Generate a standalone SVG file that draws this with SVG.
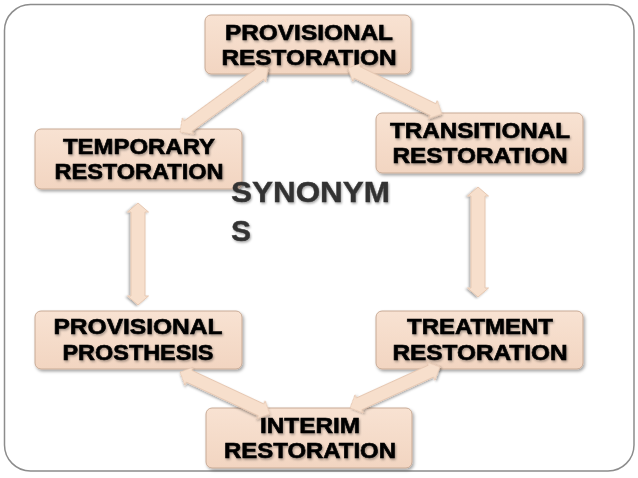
<svg xmlns="http://www.w3.org/2000/svg" width="638" height="478" viewBox="0 0 638 478">
<defs>
<linearGradient id="boxfill" x1="0" y1="0" x2="0" y2="1">
<stop offset="0" stop-color="#f8e2d2"/>
<stop offset="1" stop-color="#f2d5c1"/>
</linearGradient>
<filter id="shadow" x="-10%" y="-10%" width="125%" height="135%">
<feDropShadow dx="1.5" dy="2" stdDeviation="1.5" flood-color="#000" flood-opacity="0.35"/>
</filter>
<filter id="tshadow" x="-5%" y="-20%" width="110%" height="150%">
<feDropShadow dx="1" dy="1.5" stdDeviation="0.8" flood-color="#000" flood-opacity="0.35"/>
</filter>
</defs>
<style>
.box{fill:url(#boxfill);stroke:#c8aa95;stroke-width:1;filter:url(#shadow)}
.lbl{font-family:"Liberation Sans",Arial,sans-serif;font-weight:bold;font-size:22px;fill:#000;stroke:#000;stroke-width:0.6;text-anchor:middle;filter:url(#tshadow)}
.syn{font-family:"Liberation Sans",Arial,sans-serif;font-weight:bold;font-size:30px;fill:#333;stroke:#333;stroke-width:0.4;filter:url(#tshadow)}
.arrow{fill:#f7dfcc;stroke:#e6c8b2;stroke-width:1;filter:url(#tshadow)}
</style>
<rect x="4.5" y="4.5" width="629.5" height="466.5" rx="26" fill="#fff" stroke="#8c8c8c" stroke-width="1.5"/>

<g id="n-provisional-restoration">
<rect class="box" x="205" y="15" width="206" height="59" rx="6"/>
<text class="lbl" x="309" y="40" textLength="168" lengthAdjust="spacingAndGlyphs">PROVISIONAL</text>
<text class="lbl" x="309" y="65" textLength="175" lengthAdjust="spacingAndGlyphs">RESTORATION</text>
</g>
<g id="n-temporary-restoration">
<rect class="box" x="35" y="129" width="207" height="60" rx="6"/>
<text class="lbl" x="139" y="154" textLength="152" lengthAdjust="spacingAndGlyphs">TEMPORARY</text>
<text class="lbl" x="139" y="179" textLength="169" lengthAdjust="spacingAndGlyphs">RESTORATION</text>
</g>
<g id="n-transitional-restoration">
<rect class="box" x="376" y="113" width="207" height="60" rx="6"/>
<text class="lbl" x="480" y="138" textLength="180" lengthAdjust="spacingAndGlyphs">TRANSITIONAL</text>
<text class="lbl" x="480" y="163" textLength="175" lengthAdjust="spacingAndGlyphs">RESTORATION</text>
</g>
<g id="n-provisional-prosthesis">
<rect class="box" x="35" y="311" width="207" height="58" rx="6"/>
<text class="lbl" x="138" y="334" textLength="169" lengthAdjust="spacingAndGlyphs">PROVISIONAL</text>
<text class="lbl" x="138" y="360" textLength="151" lengthAdjust="spacingAndGlyphs">PROSTHESIS</text>
</g>
<g id="n-treatment-restoration">
<rect class="box" x="376" y="311" width="207" height="58" rx="6"/>
<text class="lbl" x="480" y="334" textLength="146" lengthAdjust="spacingAndGlyphs">TREATMENT</text>
<text class="lbl" x="480" y="360" textLength="175" lengthAdjust="spacingAndGlyphs">RESTORATION</text>
</g>
<g id="n-interim-restoration">
<rect class="box" x="206" y="408" width="206" height="60" rx="6"/>
<text class="lbl" x="310" y="433" textLength="100" lengthAdjust="spacingAndGlyphs">INTERIM</text>
<text class="lbl" x="310" y="458" textLength="172" lengthAdjust="spacingAndGlyphs">RESTORATION</text>
</g>

<g id="synonyms-label">
<text class="syn" x="231" y="202" textLength="159" lengthAdjust="spacingAndGlyphs">SYNONYM</text>
<text class="syn" x="231" y="241">S</text>
</g>

<g id="connectors">
<path class="arrow" transform="translate(180,132) rotate(-36.03)" d="M0,0 L10,-10 L10,-6.5 L98.8,-6.5 L98.8,-10 L108.8,0 L98.8,10 L98.8,6.5 L10,6.5 L10,10 Z"/>
<path class="arrow" transform="translate(348,68) rotate(26.08)" d="M0,0 L10,-10 L10,-6.5 L94.6,-6.5 L94.6,-10 L104.6,0 L94.6,10 L94.6,6.5 L10,6.5 L10,10 Z"/>
<path class="arrow" transform="translate(138,203) rotate(90)" d="M0,0 L9,-10.5 L9,-7 L93,-7 L93,-10.5 L102,0 L93,10.5 L93,7 L9,7 L9,10.5 Z"/>
<path class="arrow" transform="translate(478,187) rotate(90)" d="M0,0 L9,-10.5 L9,-7 L101,-7 L101,-10.5 L110,0 L101,10.5 L101,7 L9,7 L9,10.5 Z"/>
<path class="arrow" transform="translate(180,372) rotate(25.02)" d="M0,0 L10,-10 L10,-6.5 L89.3,-6.5 L89.3,-10 L99.3,0 L89.3,10 L89.3,6.5 L10,6.5 L10,10 Z"/>
<path class="arrow" transform="translate(350,408) rotate(-24.49)" d="M0,0 L10,-10 L10,-6.5 L88.9,-6.5 L88.9,-10 L98.9,0 L88.9,10 L88.9,6.5 L10,6.5 L10,10 Z"/>
</g>
</svg>
